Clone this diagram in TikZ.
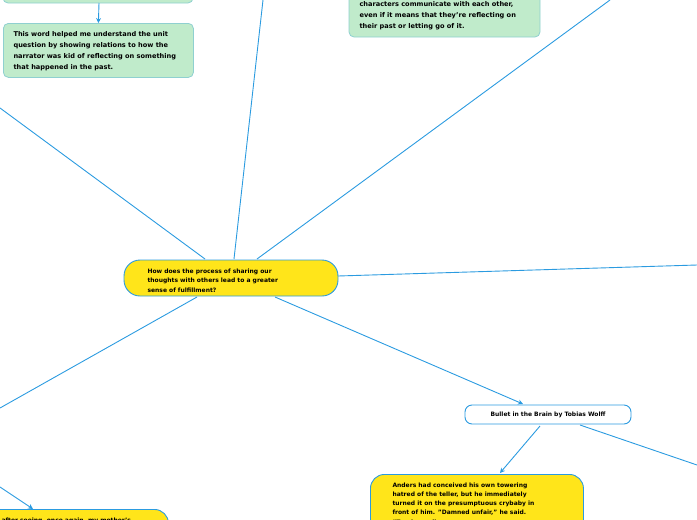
\documentclass[tikz,border=0pt]{standalone}
\usepackage{fontspec}
\setmainfont{DejaVu Sans}
\usetikzlibrary{arrows.meta}
\definecolor{ln}{HTML}{2B9BE0}
\definecolor{gf}{HTML}{C0EBCB}
\definecolor{gb}{HTML}{8FD0D0}
\definecolor{yf}{HTML}{FFE51A}
\tikzset{
 every node/.style={font=\fontsize{7}{11}\selectfont\bfseries},
 conn/.style={ln, line width=0.9pt},
 arr/.style={conn,-{Stealth[length=5pt,width=5pt]}},
 green/.style={draw=gb, fill=gf, rounded corners=5pt, line width=0.8pt, align=left, anchor=north west, inner sep=0pt, text width=#1},
 yel/.style={draw=ln, fill=yf, rounded corners=14pt, line width=0.9pt, align=left, inner sep=0pt},
}
\begin{document}
\begin{tikzpicture}[x=1pt,y=-1pt]
\useasboundingbox (0,0) rectangle (697,520);
\clip (0,0) rectangle (697,520);
% top-left upper box (cut)
\draw[draw=gb, fill=gf, rounded corners=5pt, line width=0.8pt] (3,-30) rectangle (193,3);
\node[green=190pt, minimum height=54pt] (tl) at (3,23) {};
\node[anchor=north west, align=left, font=\fontsize{6.6}{11}\selectfont\bfseries] (tlt) at (10,28) {This word helped me understand the unit\\question by showing relations to how the\\narrator was kid of reflecting on something\\that happened in the past.};
\coordinate (tltop) at (99,3);
\draw[arr] (tltop) -- (tl.north);
% top middle box
\draw[draw=gb, fill=gf, rounded corners=5pt, line width=0.8pt] (349,-30) rectangle (540,37);
\node[anchor=north west, align=left, font=\fontsize{6.6}{11}\selectfont\bfseries] (tm) at (356,-2) {characters communicate with each other,\\even if it means that they're reflecting on\\their past or letting go of it.};
% central
\node[yel, minimum width=214pt, minimum height=36pt, rounded corners=16pt] (c) at (231,278) {};
\node[anchor=north west, align=left, font=\fontsize{6}{9.5}\selectfont\bfseries] (ct) at (144,265) {How does the process of sharing our\\thoughts with others lead to a greater\\sense of fulfillment?};
\coordinate (e1) at (0,108);
\coordinate (e2) at (263,0);
\coordinate (e3) at (610,0);
\coordinate (e4) at (697,265);
\coordinate (e5) at (0,408);
\draw[conn] (205,259) -- (e1);
\draw[conn] (234,259) -- (e2);
\draw[conn] (257,259) -- (e3);
\draw[conn] (338,276) -- (e4);
\draw[conn] (197,297) -- (e5);
% bullet node
\node[draw=ln, fill=white, rounded corners=7pt, line width=0.9pt, minimum width=166pt, minimum height=19pt, font=\fontsize{6}{8}\selectfont\bfseries] (b) at (548,414.5) {Bullet in the Brain by Tobias Wolff};
\draw[arr] (275,297) -- (523,404);
% Anders box
\node[yel, minimum width=213pt, minimum height=60pt, anchor=north west] (a) at (370,474) {};
\node[anchor=north west, align=left, font=\fontsize{6}{9.3}\selectfont\bfseries] (at) at (389,479) {Anders had conceived his own towering\\hatred of the teller, but he immediately\\turned it on the presumptuous crybaby in\\front of him. "Damned unfair," he said.\\"Tragic, really.};
\draw[arr] (540,426) -- (500,473);
\coordinate (e6) at (697,465);
\draw[conn] (580,425) -- (e6);
% bottom-left box
\node[yel, minimum width=200pt, minimum height=40pt, anchor=north west] (bl) at (-32,509) {};
\node[anchor=north west, font=\fontsize{6}{9}\selectfont\bfseries] (blt) at (-2,514) {after seeing, once again, my mother's};
\coordinate (e7) at (0,487);
\draw[arr] (e7) -- (33,509);
\end{tikzpicture}
\end{document}
